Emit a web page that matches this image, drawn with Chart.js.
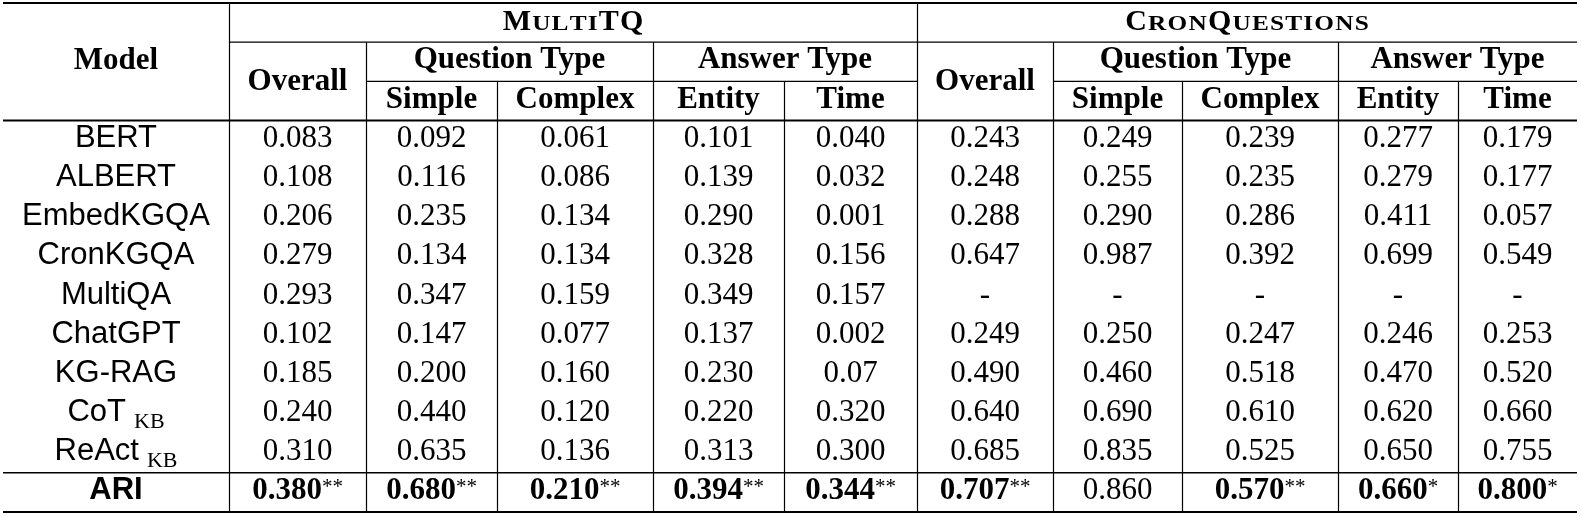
<!DOCTYPE html>
<html>
<head>
<meta charset="utf-8">
<script src="https://cdn.jsdelivr.net/npm/chart.js@4.4.1/dist/chart.umd.min.js"></script>
<style>
  html, body { margin: 0; padding: 0; background: #fff; }
  #wrap { width: 1581px; height: 517px; }
</style>
</head>
<body>
<div id="wrap"><canvas id="resultsTable" width="1581" height="517"></canvas></div>
<script>
// table content
const models = ['BERT', 'ALBERT', 'EmbedKGQA', 'CronKGQA', 'MultiQA', 'ChatGPT', 'KG-RAG', 'CoT', 'ReAct', 'ARI'];
const modelSub = ['', '', '', '', '', '', '', 'KB', 'KB', ''];

const mtqOverall = ['0.083', '0.108', '0.206', '0.279', '0.293', '0.102', '0.185', '0.240', '0.310', '0.380'];
const mtqSimple  = ['0.092', '0.116', '0.235', '0.134', '0.347', '0.147', '0.200', '0.440', '0.635', '0.680'];
const mtqComplex = ['0.061', '0.086', '0.134', '0.134', '0.159', '0.077', '0.160', '0.120', '0.136', '0.210'];
const mtqEntity  = ['0.101', '0.139', '0.290', '0.328', '0.349', '0.137', '0.230', '0.220', '0.313', '0.394'];
const mtqTime    = ['0.040', '0.032', '0.001', '0.156', '0.157', '0.002', '0.07', '0.320', '0.300', '0.344'];
const cqOverall  = ['0.243', '0.248', '0.288', '0.647', '-', '0.249', '0.490', '0.640', '0.685', '0.707'];
const cqSimple   = ['0.249', '0.255', '0.290', '0.987', '-', '0.250', '0.460', '0.690', '0.835', '0.860'];
const cqComplex  = ['0.239', '0.235', '0.286', '0.392', '-', '0.247', '0.518', '0.610', '0.525', '0.570'];
const cqEntity   = ['0.277', '0.279', '0.411', '0.699', '-', '0.246', '0.470', '0.620', '0.650', '0.660'];
const cqTime     = ['0.179', '0.177', '0.057', '0.549', '-', '0.253', '0.520', '0.660', '0.755', '0.800'];

// last row (ARI): significance marks and bold flags per column
const ariStars = ['**', '**', '**', '**', '**', '**', '', '**', '*', '*'];
const ariBold  = [true, true, true, true, true, true, false, true, true, true];

const groups = ['MultiTQ', 'CronQuestions'];
const subGroups = ['Question Type', 'Answer Type'];
const leafHeaders = ['Overall', 'Simple', 'Complex', 'Entity', 'Time'];

// layout (canvas units)
const colEdges = [3, 229, 366, 497, 653, 784, 917, 1053, 1182, 1338, 1458, 1577];
const ROW = 39.15;
const TOP = 3;
const HEAD_ROWS = 3;

const SERIF = '"Liberation Serif", "Times New Roman", serif';
const SANS = '"Liberation Sans", Arial, sans-serif';
const INK = '#000';
const FS = 31;

const columns = [mtqOverall, mtqSimple, mtqComplex, mtqEntity, mtqTime,
                 cqOverall, cqSimple, cqComplex, cqEntity, cqTime];

function colCenter(c) { return (colEdges[c] + colEdges[c + 1]) / 2; }

const datasets = [{
  label: 'Model',
  data: models.map((m, r) => ({ x: colCenter(0), y: HEAD_ROWS + r + 0.5 })),
  pointRadius: 0
}].concat(columns.map((vals, c) => ({
  label: 'col' + c,
  data: vals.map((v, r) => ({ x: colCenter(c + 1), y: HEAD_ROWS + r + 0.5 })),
  pointRadius: 0
})));

function hLine(ctx, x0, x1, y, w) {
  ctx.lineWidth = w;
  ctx.beginPath();
  ctx.moveTo(x0, y);
  ctx.lineTo(x1, y);
  ctx.stroke();
}
function vLine(ctx, x, y0, y1) {
  ctx.lineWidth = 1.2;
  ctx.beginPath();
  ctx.moveTo(x + 0.5, y0);
  ctx.lineTo(x + 0.5, y1);
  ctx.stroke();
}

// bold small caps, letters widened a little like the LaTeX \textsc face
function smallCaps(ctx, text, cx, base, big, small) {
  const sx = 1.15, track = 1.2;
  const parts = text.split('').map(ch => {
    const up = ch === ch.toUpperCase();
    return { t: ch.toUpperCase(), f: 'bold ' + (up ? big : small) + 'px ' + SERIF, s: up ? 1 : sx };
  });
  let w = 0;
  parts.forEach(p => { ctx.font = p.f; p.w = ctx.measureText(p.t).width * p.s; w += p.w; });
  w += track * (parts.length - 1);
  let x = cx - w / 2;
  ctx.textAlign = 'left';
  parts.forEach(p => {
    ctx.font = p.f;
    ctx.save();
    ctx.translate(x, base);
    ctx.scale(p.s, 1);
    ctx.fillText(p.t, 0, 0);
    ctx.restore();
    x += p.w + track;
  });
}

const tablePlugin = {
  id: 'tablePlugin',
  afterDatasetsDraw(chart) {
    const ctx = chart.ctx;
    const xs = chart.scales.x, ys = chart.scales.y;
    const X = v => xs.getPixelForValue(v);
    const Y = r => ys.getPixelForValue(r);
    const left = X(colEdges[0]), right = X(colEdges[colEdges.length - 1]);
    const nRows = HEAD_ROWS + models.length;

    ctx.save();
    ctx.strokeStyle = INK;
    ctx.fillStyle = INK;

    // rules
    hLine(ctx, left, right, Y(0), 2);
    hLine(ctx, X(colEdges[1]), right, Y(1), 1.3);
    hLine(ctx, X(colEdges[2]), X(colEdges[6]), Y(2), 1.3);
    hLine(ctx, X(colEdges[7]), right, Y(2), 1.3);
    hLine(ctx, left, right, Y(HEAD_ROWS), 2);
    hLine(ctx, left, right, Y(nRows - 1), 1.6);
    hLine(ctx, left, right, Y(nRows), 2);

    [1, 6].forEach(c => vLine(ctx, X(colEdges[c]), Y(0), Y(nRows)));
    [2, 4, 7, 9].forEach(c => vLine(ctx, X(colEdges[c]), Y(1), Y(nRows)));
    [3, 5, 8, 10].forEach(c => vLine(ctx, X(colEdges[c]), Y(2), Y(nRows)));

    // header
    ctx.textBaseline = 'alphabetic';
    ctx.textAlign = 'center';
    ctx.font = 'bold ' + FS + 'px ' + SERIF;
    ctx.fillText('Model', X(colCenter(0)), Y(1.5) + 7);

    smallCaps(ctx, groups[0], X((colEdges[1] + colEdges[6]) / 2), Y(0.5) + 7, 30, 22);
    smallCaps(ctx, groups[1], X((colEdges[6] + colEdges[11]) / 2), Y(0.5) + 7, 30, 22);

    ctx.textAlign = 'center';
    ctx.font = 'bold ' + FS + 'px ' + SERIF;
    [[2, 4], [4, 6], [7, 9], [9, 11]].forEach((span, i) => {
      ctx.fillText(subGroups[i % 2], X((colEdges[span[0]] + colEdges[span[1]]) / 2), Y(1.5) + 6);
    });
    [1, 6].forEach(c => ctx.fillText(leafHeaders[0], X(colCenter(c)), Y(2) + 9));
    [2, 3, 4, 5, 7, 8, 9, 10].forEach(c => {
      ctx.fillText(leafHeaders[((c - 1) % 5)], X(colCenter(c)), Y(2.5) + 7);
    });

    // model names
    const mMeta = chart.getDatasetMeta(0);
    mMeta.data.forEach((pt, r) => {
      const base = pt.y + 7;
      const last = r === models.length - 1;
      const mFont = (last ? 'bold ' : '') + FS + 'px ' + SANS;
      ctx.font = mFont;
      const w1 = ctx.measureText(models[r]).width;
      let w2 = 0, gap = 0;
      if (modelSub[r]) {
        gap = 8;
        ctx.font = '22px ' + SERIF;
        w2 = ctx.measureText(modelSub[r]).width;
      }
      const x = pt.x - (w1 + gap + w2) / 2;
      ctx.textAlign = 'left';
      ctx.font = mFont;
      ctx.fillText(models[r], x, base);
      if (modelSub[r]) {
        ctx.font = '22px ' + SERIF;
        ctx.fillText(modelSub[r], x + w1 + gap, base + 7);
      }
    });

    // values
    columns.forEach((vals, c) => {
      const meta = chart.getDatasetMeta(c + 1);
      meta.data.forEach((pt, r) => {
        const base = pt.y + 7;
        const last = r === vals.length - 1;
        const main = vals[r];
        const bold = last && ariBold[c];
        const stars = last ? ariStars[c] : '';
        const vFont = (bold ? 'bold ' : '') + FS + 'px ' + SERIF;
        ctx.font = vFont;
        const w1 = ctx.measureText(main).width;
        ctx.font = '21px ' + SERIF;
        const w2 = stars ? ctx.measureText(stars).width : 0;
        const x = pt.x - (w1 + w2) / 2;
        ctx.textAlign = 'left';
        ctx.font = vFont;
        ctx.fillText(main, x, base);
        if (stars) {
          ctx.font = '21px ' + SERIF;
          ctx.fillText(stars, x + w1, base - 6);
        }
      });
    });
    ctx.restore();
  }
};

new Chart(document.getElementById('resultsTable').getContext('2d'), {
  type: 'scatter',
  data: { datasets: datasets },
  options: {
    responsive: false,
    animation: false,
    layout: { padding: 0 },
    plugins: { legend: { display: false }, tooltip: { enabled: false } },
    scales: {
      x: { type: 'linear', min: 0, max: 1581, display: false },
      y: { type: 'linear', min: -TOP / ROW, max: (517 - TOP) / ROW, reverse: true, display: false }
    }
  },
  plugins: [tablePlugin]
});
</script>
</body>
</html>
